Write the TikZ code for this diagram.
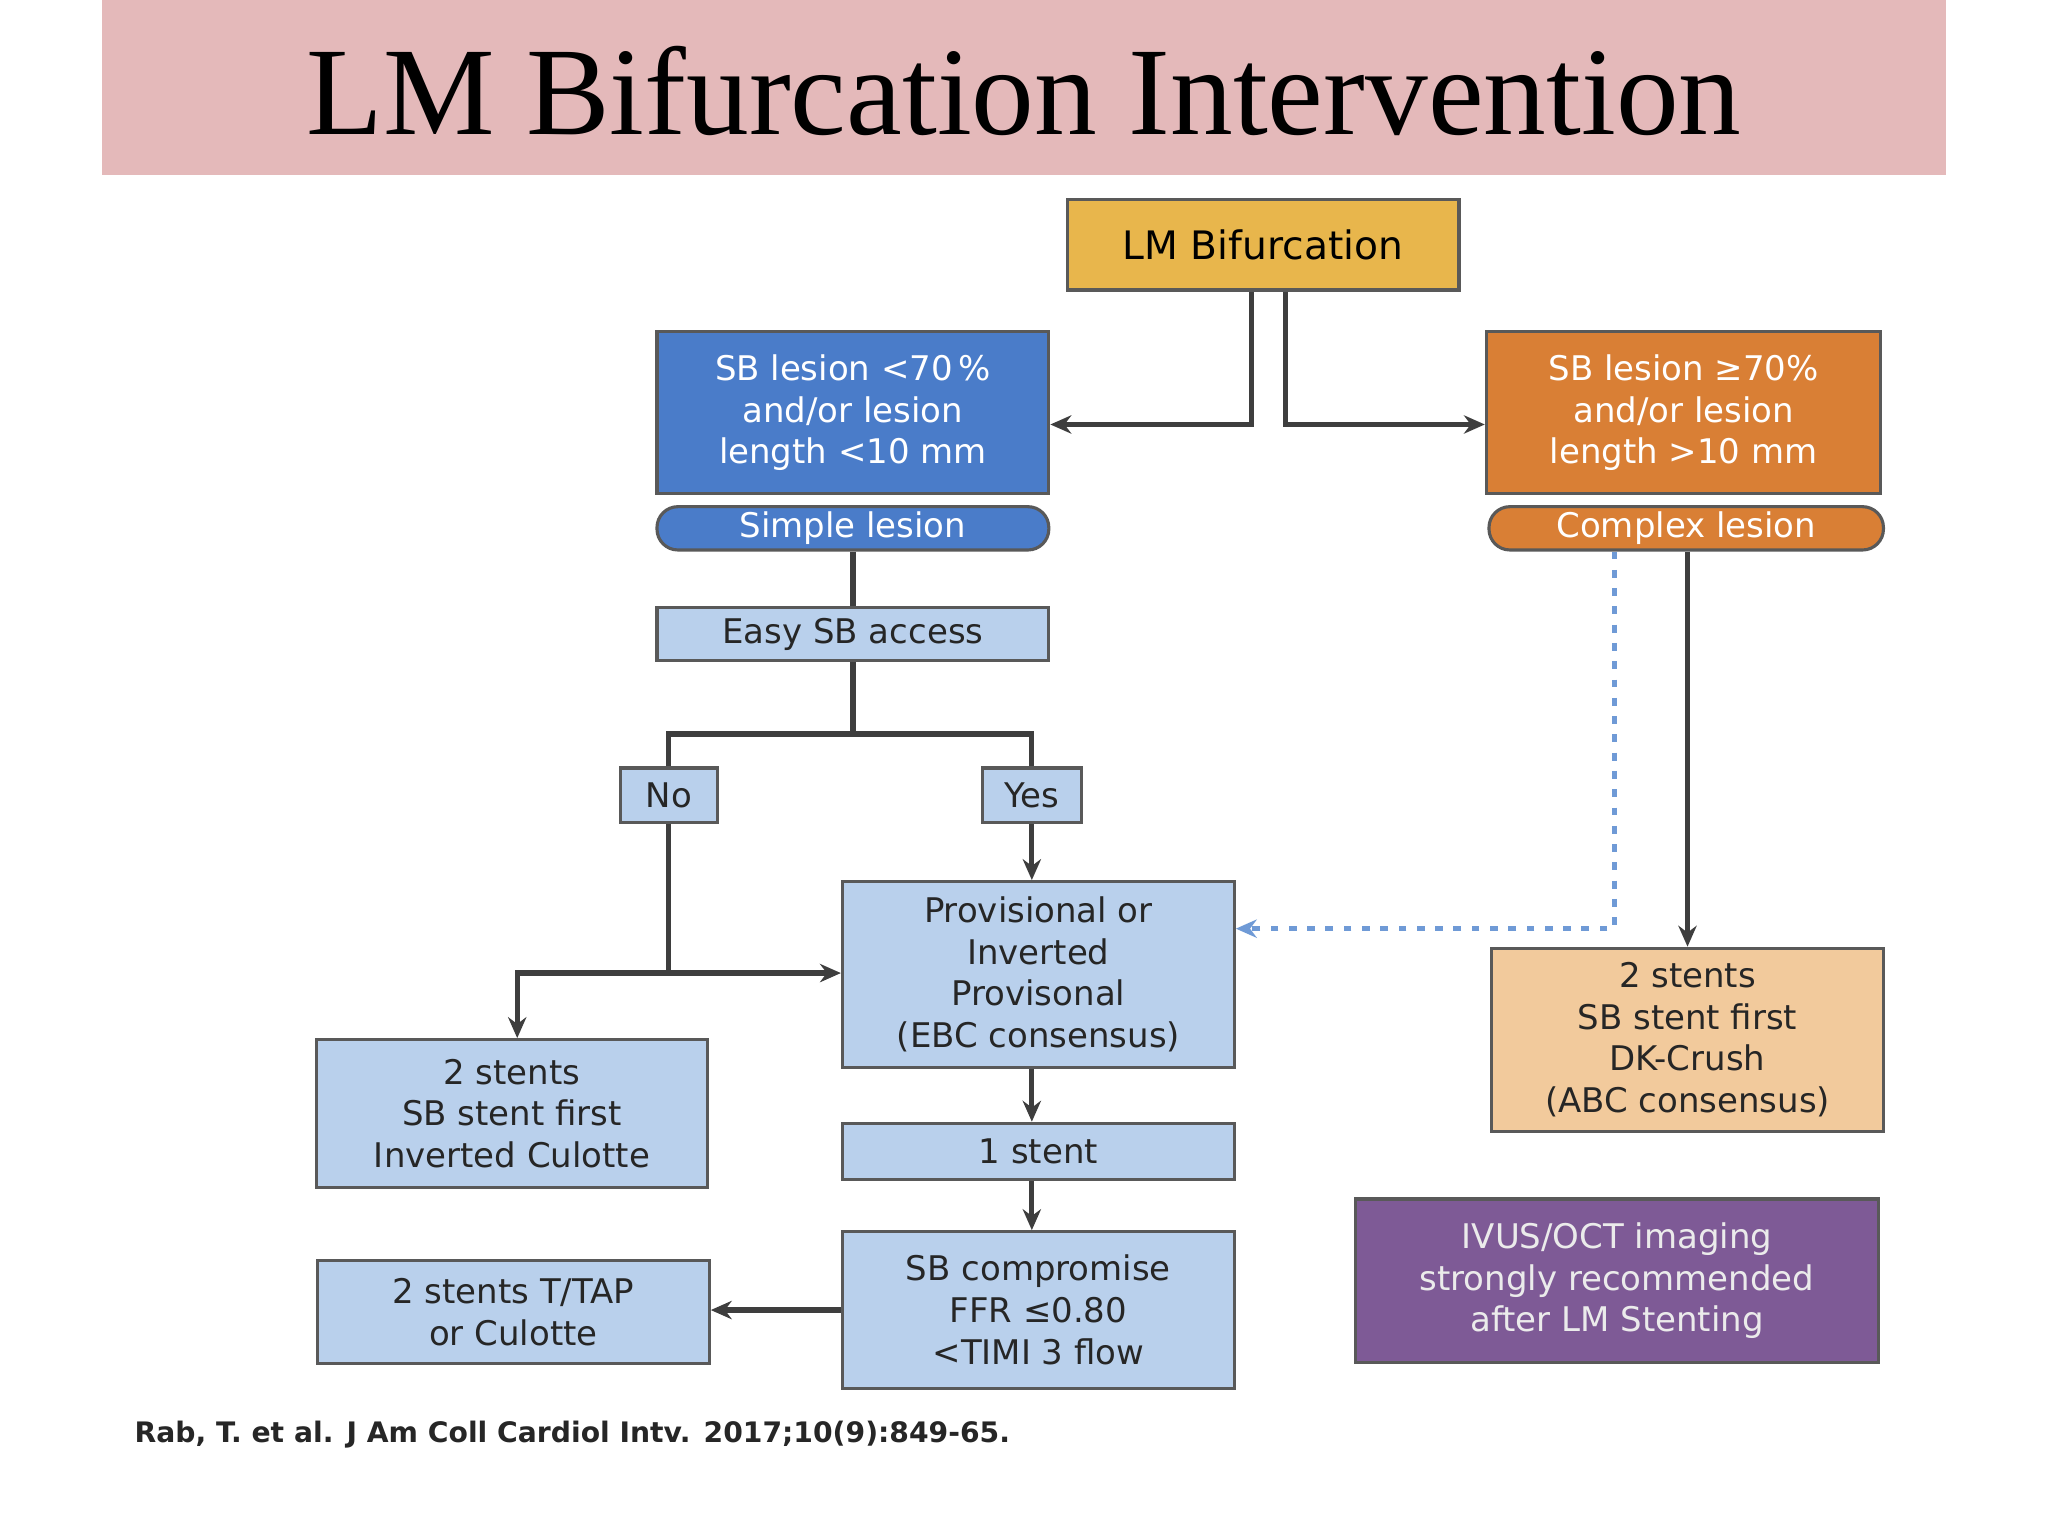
\documentclass[tikz,border=0pt]{standalone}
\usepackage{fontspec}
\setmainfont{DejaVu Sans}
\newfontfamily\titlefont{Liberation Serif}
\usetikzlibrary{arrows.meta}
\definecolor{lc}{HTML}{3E3E3E}
\definecolor{bdark}{HTML}{4A7CC9}
\definecolor{blight}{HTML}{B9D0EC}
\definecolor{odark}{HTML}{D97F35}
\definecolor{olight}{HTML}{F2CA9C}
\definecolor{gold}{HTML}{E8B64C}
\definecolor{purp}{HTML}{7E5A96}
\definecolor{pinkb}{HTML}{E4B9BA}
\definecolor{dotb}{HTML}{6F9AD6}
\tikzset{
 box/.style={draw=gray!70!black,line width=1.2pt,align=center,inner sep=2pt,font=\fontsize{13}{16}\selectfont},
 lb/.style={box,fill=blight,text=black!85},
 pill/.style={box,rounded corners=8pt,text=white},
 ln/.style={draw=lc,line width=2pt},
 arr/.style={ln,-{Stealth[length=8pt,width=7pt]}},
 dot/.style={draw=dotb,line width=2pt,dash pattern=on 3pt off 4pt,-{Stealth[length=8pt,width=7pt]}}
}
\begin{document}
\begin{tikzpicture}[x=0.5pt,y=-0.5pt]
\useasboundingbox (0,0) rectangle (1568,1176);
\fill[white] (0,0) rectangle (1568,1176);
\fill[pinkb] (78,0) rectangle (1490,134);
\node (title) at (784,70) {\titlefont\fontsize{48}{52}\selectfont LM Bifurcation Intervention};
\node[box,fill=gold,minimum width=150pt,minimum height=34.5pt,font=\fontsize{15}{18}\selectfont] (lm) at (967,187.5) {LM Bifurcation};
\node[box,fill=bdark,text=white,minimum width=150pt,minimum height=62pt] (sbl) at (653,316) {SB lesion <70\,\%\\and/or lesion\\length <10 mm};
\node[pill,fill=bdark,minimum width=150pt,minimum height=16.5pt] (simple) at (653,404.5) {Simple lesion};
\node[box,fill=odark,text=white,minimum width=151pt,minimum height=62pt] (sbh) at (1289,316) {SB lesion ≥70\%\\and/or lesion\\length >10 mm};
\node[pill,fill=odark,minimum width=151pt,minimum height=16.5pt] (complex) at (1291,404.5) {Complex lesion};
\node[lb,minimum width=150pt,minimum height=20.5pt] (easy) at (653,485.5) {Easy SB access};
\node[lb,minimum width=37pt,minimum height=21pt] (no) at (512,609) {No};
\node[lb,minimum width=38pt,minimum height=21pt] (yes) at (790,609) {Yes};
\node[lb,minimum width=150pt,minimum height=71pt] (prov) at (795,746) {Provisional or\\Inverted\\Provisonal\\(EBC consensus)};
\node[lb,minimum width=150pt,minimum height=56.5pt] (cul) at (392,852.5) {2 stents\\SB stent first\\Inverted Culotte};
\node[lb,minimum width=150pt,minimum height=21.5pt] (one) at (795,881.5) {1 stent};
\node[lb,minimum width=150pt,minimum height=60pt] (sbc) at (795,1003) {SB compromise\\FFR ≤0.80\\<TIMI 3 flow};
\node[lb,minimum width=150pt,minimum height=39.5pt] (tap) at (393,1004.5) {2 stents T/TAP\\or Culotte};
\node[box,fill=olight,text=black!85,minimum width=150pt,minimum height=70pt] (dk) at (1292,796) {2 stents\\SB stent first\\DK-Crush\\(ABC consensus)};
\node[box,fill=purp,text=white!92!black,minimum width=200pt,minimum height=62.5pt] (ivus) at (1238,980.5) {IVUS/OCT imaging\\strongly recommended\\after LM Stenting};
\node[anchor=west,font=\bfseries\fontsize{10.8}{12}\selectfont,text=black!85] (cite) at (96,1098) {Rab, T. et al. J Am Coll Cardiol Intv. 2017;10(9):849-65.};
% connectors
\coordinate (c1) at (958,325);
\coordinate (c2) at (984,325);
\draw[arr] (lm.south -| c1) -- (c1) -- (sbl.east |- c1);
\draw[arr] (lm.south -| c2) -- (c2) -- (sbh.west |- c2);
\draw[ln] (simple) -- (easy);
\coordinate (j) at (653,562);
\draw[ln] (easy.south) -- (j);
\draw[ln] (no.north) |- (j) -| (yes.north);
\draw[arr] (yes) -- (prov.north -| yes);
\coordinate (k) at (512,745);
\coordinate (k2) at (396,745);
\draw[ln] (no.south) -- (k);
\draw[arr] (k) -- (prov.west |- k);
\draw[arr] (k) -- (k2) -- (cul.north -| k2);
\draw[arr] (prov.south -| 790,0) -- (one.north -| 790,0);
\draw[arr] (one.south -| 790,0) -- (sbc.north -| 790,0);
\draw[arr] (sbc.west |- 0,1003) -- (tap.east |- 0,1003);
\draw[arr] (complex.south -| dk) -- (dk.north);
\coordinate (d1) at (1236,711);
\draw[dot] (complex.south -| d1) -- (d1) -- (prov.east |- d1);
\end{tikzpicture}
\end{document}
